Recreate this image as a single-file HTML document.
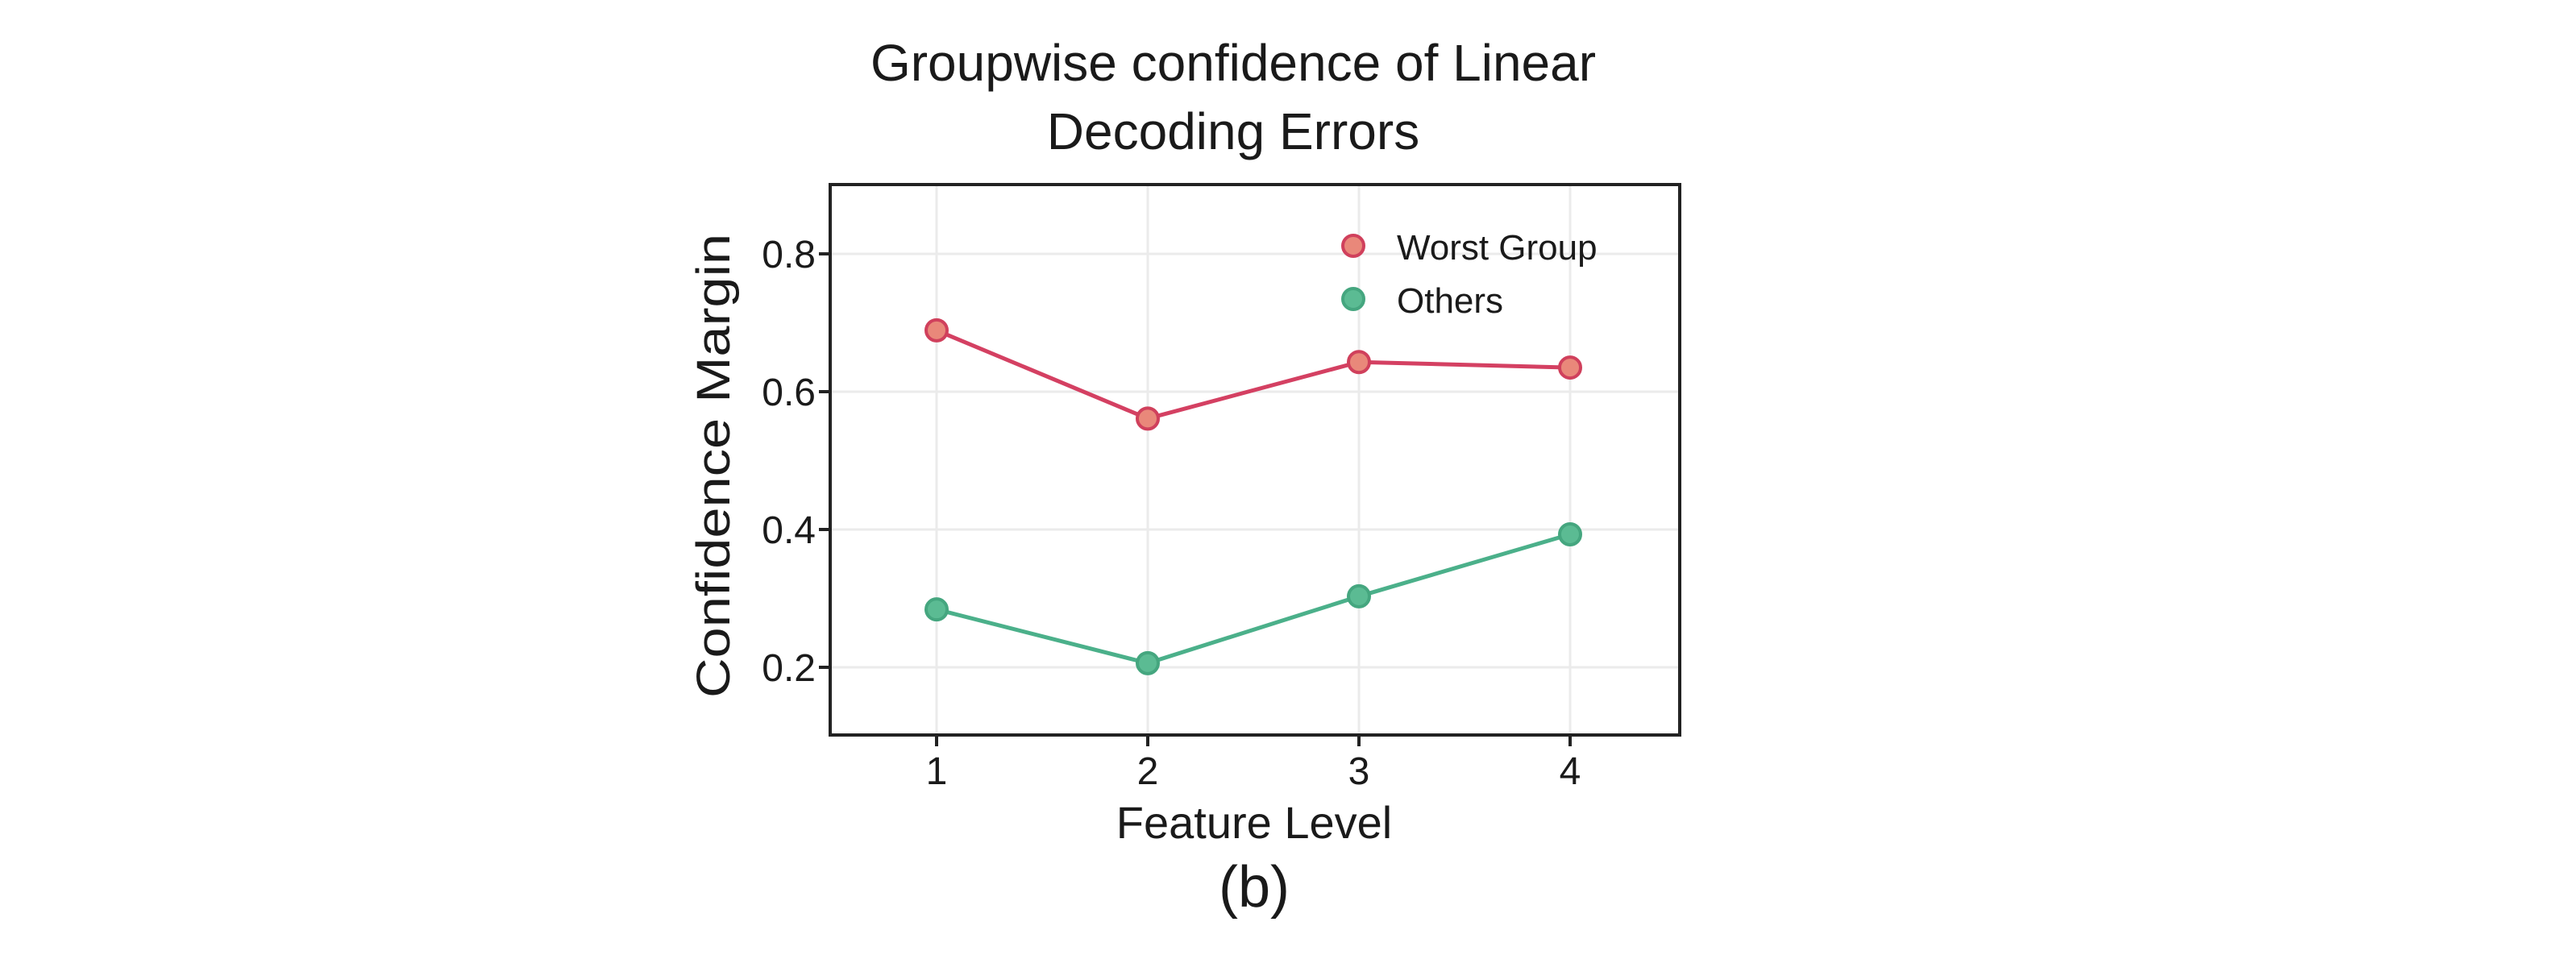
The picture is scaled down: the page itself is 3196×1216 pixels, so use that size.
<!DOCTYPE html>
<html><head><meta charset="utf-8"><style>html,body{margin:0;padding:0;background:#fff}svg{display:block}text{font-family:"Liberation Sans",sans-serif;fill:#1a1a1a}</style></head>
<body>
<svg id="chart" width="3196" height="1216" viewBox="0 0 3196 1216" xmlns="http://www.w3.org/2000/svg">
<text x="1530" y="100" font-size="64" text-anchor="middle">Groupwise confidence of Linear</text>
<text x="1530" y="185" font-size="64" text-anchor="middle">Decoding Errors</text>
<g id="grid"></g>
<g id="series"></g>
<rect x="1030" y="229" width="1054" height="683" fill="none" stroke="#222" stroke-width="4"/>
<g id="ticks"></g>
<text x="1556" y="1040" font-size="56" text-anchor="middle">Feature Level</text>
<text transform="translate(905,578) rotate(-90)" font-size="58" text-anchor="middle" textLength="576" lengthAdjust="spacingAndGlyphs">Confidence Margin</text>
<text x="1556" y="1125" font-size="72" text-anchor="middle">(b)</text>
<g>
<circle cx="1679" cy="305" r="13" fill="#e9887a" stroke="#d0405c" stroke-width="4"/>
<text x="1733" y="322" font-size="44">Worst Group</text>
<circle cx="1679" cy="371" r="13" fill="#5bbb93" stroke="#45a67f" stroke-width="4"/>
<text x="1733" y="388" font-size="44">Others</text>
</g>
</svg>
<script>
const categories = [1, 2, 3, 4];
const worstGroup = [0.689, 0.561, 0.643, 0.635];
const others = [0.284, 0.206, 0.303, 0.393];
const yTicks = [0.2, 0.4, 0.6, 0.8];
const yTickLabels = ["0.2", "0.4", "0.6", "0.8"];

const NS = "http://www.w3.org/2000/svg";
function xs(c){ return 1162 + (c - 1) * 262; }
function ys(v){ return 828 - (v - 0.2) * 855; }
function mk(tag, attrs, parent){
  const e = document.createElementNS(NS, tag);
  for (const k in attrs) e.setAttribute(k, attrs[k]);
  parent.appendChild(e); return e;
}
const grid = document.getElementById('grid');
const ticks = document.getElementById('ticks');
const series = document.getElementById('series');
categories.forEach(c => {
  const g = mk('line', {x1: xs(c), x2: xs(c), y1: 229, y2: 912, stroke: '#ebebeb', 'stroke-width': 3}, grid);
  
  
  const t = mk('line', {x1: xs(c), x2: xs(c), y1: 912, y2: 926, stroke: '#222', 'stroke-width': 4}, ticks);
  
  
  const l = mk('text', {x: xs(c), y: 973, 'font-size': 48, 'text-anchor': 'middle'}, ticks);
  l.textContent = String(c);
  
  
});
yTicks.forEach((v, i) => {
  const g = mk('line', {x1: 1030, x2: 2084, y1: ys(v), y2: ys(v), stroke: '#ebebeb', 'stroke-width': 3}, grid);
  
  
  const t = mk('line', {x1: 1016, x2: 1030, y1: ys(v), y2: ys(v), stroke: '#222', 'stroke-width': 4}, ticks);
  
  
  const l = mk('text', {x: 1012, y: ys(v) + 17, 'font-size': 48, 'text-anchor': 'end'}, ticks);
  l.textContent = yTickLabels[i];
  
  
});
function drawSeries(vals, line, fill, edge, name){
  const p = mk('polyline', {points: vals.map((v, i) => xs(categories[i]) + ',' + ys(v)).join(' '), fill: 'none', stroke: line, 'stroke-width': 5}, series);
  
  
  vals.forEach((v, i) => {
    const c = mk('circle', {cx: xs(categories[i]), cy: ys(v), r: 13, fill: fill, stroke: edge, 'stroke-width': 4}, series);
    
    
  });
}
drawSeries(worstGroup, '#d44062', '#e9887a', '#d0405c', 'worst-group');
drawSeries(others, '#4bb08a', '#5bbb93', '#45a67f', 'others');
</script>
</body></html>
